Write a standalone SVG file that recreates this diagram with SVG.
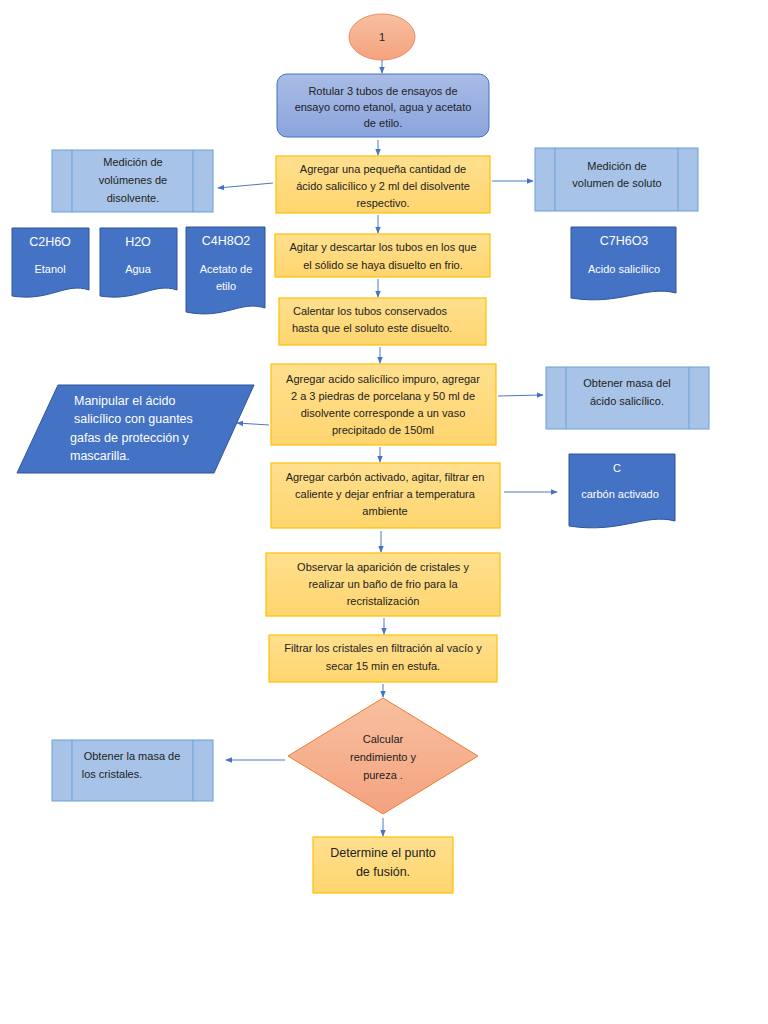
<svg xmlns="http://www.w3.org/2000/svg" width="768" height="1024" viewBox="0 0 768 1024">
<defs>
<linearGradient id="gO" x1="0" y1="0" x2="0" y2="1"><stop offset="0" stop-color="#ffe08f"/><stop offset="1" stop-color="#ffd56e"/></linearGradient>
<linearGradient id="gB" x1="0" y1="0" x2="0" y2="1"><stop offset="0" stop-color="#a9bce6"/><stop offset="1" stop-color="#8aa4dd"/></linearGradient>
<linearGradient id="gS" x1="0" y1="0" x2="0" y2="1"><stop offset="0" stop-color="#f8c0a0"/><stop offset="1" stop-color="#f4a27e"/></linearGradient>
<marker id="ar" viewBox="0 0 10 10" refX="9" refY="5" markerWidth="7" markerHeight="7" orient="auto"><path d="M0,1 L10,5 L0,9 z" fill="#4472c4"/></marker>
</defs>
<style>
text{font-family:"Liberation Sans",Arial,sans-serif;font-size:11px;fill:#222;text-anchor:middle}
.w{fill:#fff}
.o{fill:url(#gO);stroke:#ffc000;stroke-width:1.2}
.p{fill:#a7c4e8;stroke:#6a9fd8;stroke-width:1}
.d{fill:#4472c4;stroke:#2f5597;stroke-width:1}
.c line{stroke:#4a78c8;stroke-width:1;marker-end:url(#ar)}
</style>
<rect width="768" height="1024" fill="#fff"/>
<g id="n1"><ellipse cx="382" cy="37" rx="33" ry="23" fill="url(#gS)" stroke="#ee8a66"/><text x="382" y="41">1</text></g>
<g id="n2"><rect x="277" y="74" width="212" height="63" rx="10" fill="url(#gB)" stroke="#4472c4"/><text x="383" y="95">Rotular 3 tubos de ensayos de</text><text x="383" y="111">ensayo como etanol, agua y acetato</text><text x="383" y="127">de etilo.</text></g>
<g id="n3"><rect class="o" x="276" y="156" width="214" height="57"/><text x="383" y="173">Agregar una pequeña cantidad de</text><text x="383" y="190">ácido salicílico y 2 ml del disolvente</text><text x="383" y="207">respectivo.</text></g>
<g id="n4"><rect class="o" x="275" y="234" width="215" height="43"/><text x="383" y="251">Agitar y descartar los tubos en los que</text><text x="383" y="269">el sólido se haya disuelto en frio.</text></g>
<g id="n5"><rect class="o" x="279" y="298" width="207" height="47"/><text x="370" y="315">Calentar los tubos conservados</text><text x="372" y="332">hasta que el soluto este disuelto.</text></g>
<g id="n6"><rect class="o" x="271" y="364" width="225" height="81"/><text x="383" y="383">Agregar acido salicílico impuro, agregar</text><text x="383" y="400">2 a 3 piedras de porcelana y 50 ml de</text><text x="383" y="417">disolvente corresponde a un vaso</text><text x="383" y="434">precipitado de 150ml</text></g>
<g id="n7"><rect class="o" x="271" y="463" width="229" height="65"/><text x="385" y="481">Agregar carbón activado, agitar, filtrar en</text><text x="385" y="498">caliente y dejar enfriar a temperatura</text><text x="385" y="515">ambiente</text></g>
<g id="n8"><rect class="o" x="266" y="553" width="234" height="63"/><text x="383" y="571">Observar la aparición de cristales y</text><text x="383" y="588">realizar un baño de frio para la</text><text x="383" y="605">recristalización</text></g>
<g id="n9"><rect class="o" x="269" y="635" width="228" height="47"/><text x="383" y="652">Filtrar los cristales en filtración al vacío y</text><text x="383" y="670">secar 15 min en estufa.</text></g>
<g id="n10"><polygon points="288,756 383,698 478,756 383,814" fill="url(#gS)" stroke="#ed7d31"/><text x="383" y="743">Calcular</text><text x="383" y="761">rendimiento y</text><text x="383" y="779">pureza .</text></g>
<g id="n11"><rect class="o" x="313" y="837" width="140" height="56"/><text x="383" y="857" style="font-size:12.5px">Determine el punto</text><text x="383" y="876" style="font-size:12.5px">de fusión.</text></g>
<g id="p1"><rect class="p" x="52" y="150" width="161" height="62"/><line x1="72" y1="150" x2="72" y2="212" stroke="#6a9fd8"/><line x1="193" y1="150" x2="193" y2="212" stroke="#6a9fd8"/><text x="133" y="166">Medición de</text><text x="133" y="184">volúmenes de</text><text x="133" y="202">disolvente.</text></g>
<g id="p2"><rect class="p" x="535" y="148" width="163" height="63"/><line x1="555" y1="148" x2="555" y2="211" stroke="#6a9fd8"/><line x1="678" y1="148" x2="678" y2="211" stroke="#6a9fd8"/><text x="617" y="170">Medición de</text><text x="617" y="187">volumen de soluto</text></g>
<g id="p3"><rect class="p" x="546" y="367" width="163" height="62"/><line x1="566" y1="367" x2="566" y2="429" stroke="#6a9fd8"/><line x1="689" y1="367" x2="689" y2="429" stroke="#6a9fd8"/><text x="627" y="387">Obtener masa del</text><text x="627" y="405">ácido salicílico.</text></g>
<g id="p4"><rect class="p" x="52" y="740" width="161" height="61"/><line x1="72" y1="740" x2="72" y2="801" stroke="#6a9fd8"/><line x1="193" y1="740" x2="193" y2="801" stroke="#6a9fd8"/><text x="132" y="760">Obtener la masa de</text><text x="112" y="778">los cristales.</text></g>
<g id="doc1"><path class="d" d="M12,228 H89 V290 C65,282 50,302 12,296 Z"/><text class="w" x="50" y="246" style="font-size:12.5px">C2H6O</text><text class="w" x="50" y="273">Etanol</text></g>
<g id="doc2"><path class="d" d="M100,228 H177 V290 C153,282 138,302 100,296 Z"/><text class="w" x="138" y="246" style="font-size:12.5px">H2O</text><text class="w" x="138" y="273">Agua</text></g>
<g id="doc3"><path class="d" d="M186,227 H265 V308 C240,300 225,320 186,312 Z"/><text class="w" x="226" y="245" style="font-size:12.5px">C4H8O2</text><text class="w" x="226" y="273">Acetato de</text><text class="w" x="226" y="290">etilo</text></g>
<g id="doc4"><path class="d" d="M571,227 H676 V293 C645,285 620,306 571,298 Z"/><text class="w" x="624" y="245" style="font-size:12.5px">C7H6O3</text><text class="w" x="624" y="273">Acido salicílico</text></g>
<g id="doc5"><path class="d" d="M569,454 H675 V521 C645,513 620,534 569,526 Z"/><text class="w" x="617" y="472">C</text><text class="w" x="620" y="498">carbón activado</text></g>
<g id="par"><polygon class="d" points="58,385 254,385 214,473 17,473"/><text class="w" x="74" y="405" style="text-anchor:start;font-size:12.5px">Manipular el ácido</text><text class="w" x="74" y="423" style="text-anchor:start;font-size:12.5px">salicílico con guantes</text><text class="w" x="70" y="442" style="text-anchor:start;font-size:12.5px">gafas de protección y</text><text class="w" x="70" y="460" style="text-anchor:start;font-size:12.5px">mascarilla.</text></g>
<g id="connectors" class="c">
<line x1="382" y1="60" x2="382" y2="73"/>
<line x1="378" y1="140" x2="378" y2="155"/>
<line x1="378" y1="215" x2="378" y2="233"/>
<line x1="378" y1="279" x2="378" y2="297"/>
<line x1="380" y1="347" x2="380" y2="363"/>
<line x1="380" y1="447" x2="380" y2="462"/>
<line x1="381" y1="531" x2="381" y2="552"/>
<line x1="384" y1="618" x2="384" y2="634"/>
<line x1="383" y1="684" x2="383" y2="697"/>
<line x1="383" y1="818" x2="383" y2="836"/>
<line x1="273" y1="183" x2="218" y2="188"/>
<line x1="492" y1="181" x2="533" y2="181"/>
<line x1="269" y1="425" x2="237" y2="423"/>
<line x1="498" y1="396" x2="543" y2="395"/>
<line x1="504" y1="492" x2="557" y2="492"/>
<line x1="285" y1="760" x2="226" y2="760"/>
</g>
</svg>
